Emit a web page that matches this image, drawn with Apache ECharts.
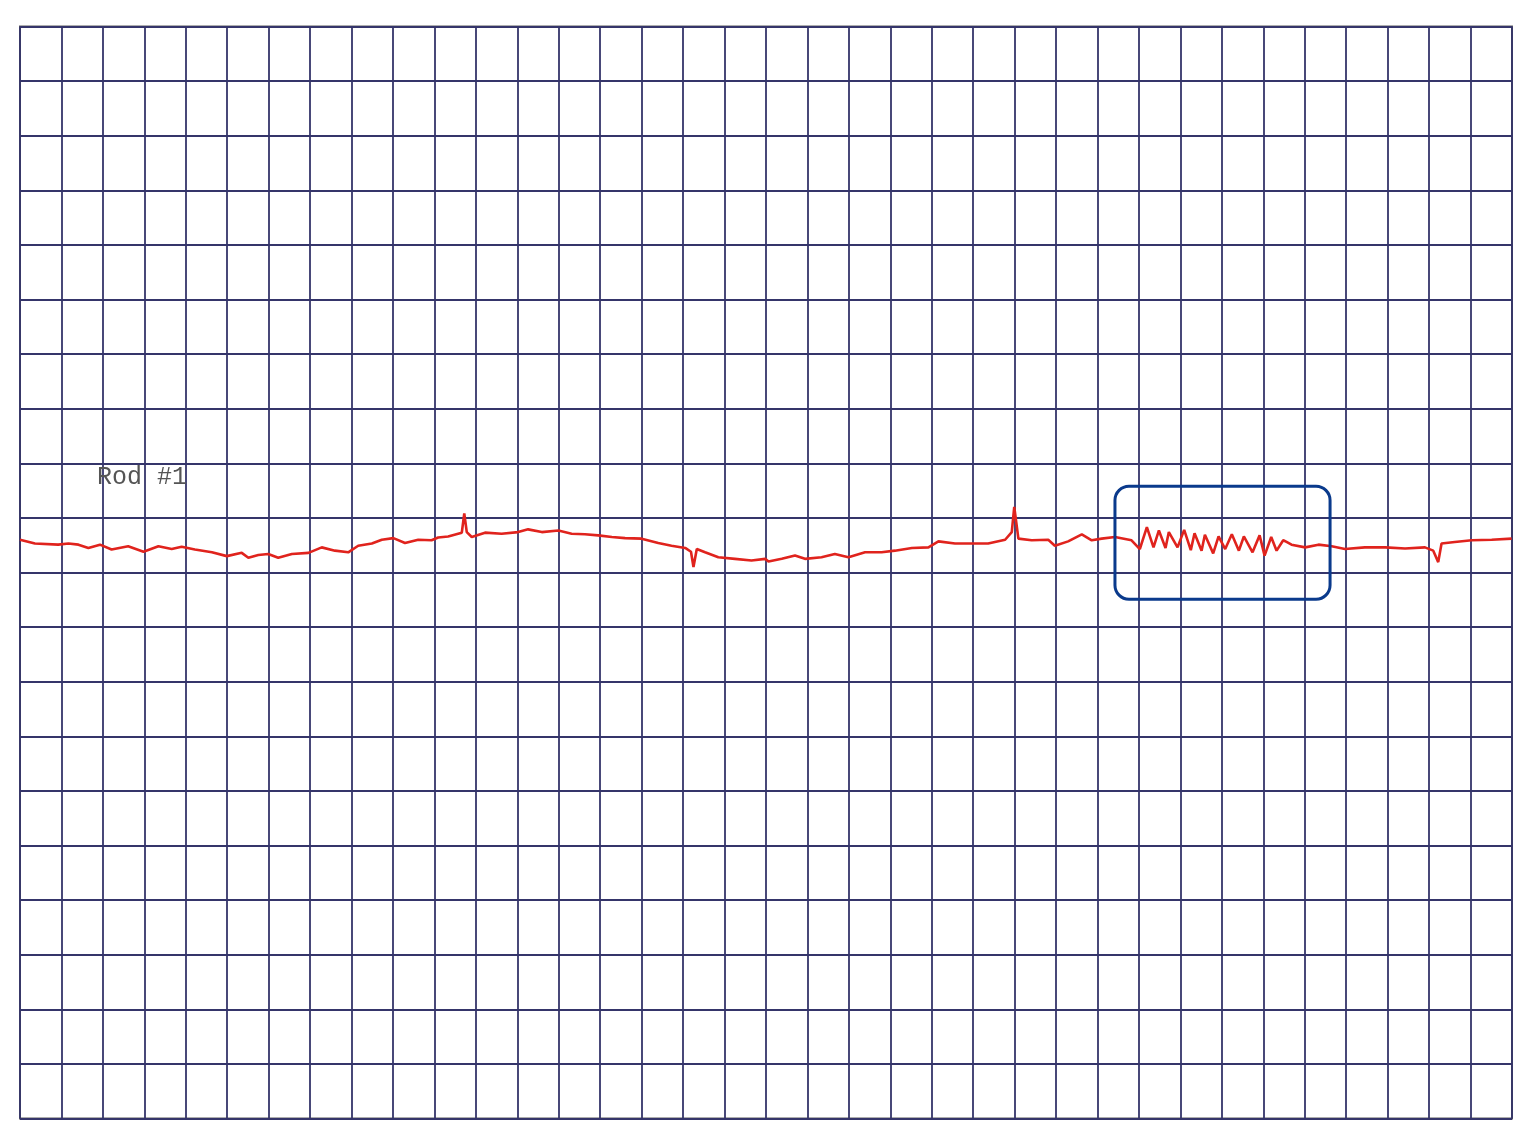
<!DOCTYPE html>
<html>
<head>
<meta charset="utf-8">
<script src="https://cdn.jsdelivr.net/npm/echarts/dist/echarts.min.js"></script>
<style>
  html, body { margin: 0; padding: 0; background: #fff; }
  #chart { width: 1536px; height: 1140px; }
</style>
</head>
<body>
<div id="chart"></div>
<script>
// trace position along the strip (grid cells) and level (grid cells)
var traceX = [
	0, 0.36, 0.92, 1.17, 1.41, 1.65, 1.93, 2.21, 2.61, 2.98, 3.34, 3.66, 3.90, 4.22, 4.63, 4.99,
	5.35, 5.51, 5.75, 5.99, 6.23, 6.56, 6.96, 7.28, 7.60, 7.92, 8.16, 8.49, 8.73, 9.01, 9.29, 9.61,
	9.93, 10.09, 10.33, 10.66, 10.72, 10.78, 10.90, 11.22, 11.62, 12.02, 12.26, 12.59, 12.99, 13.31,
	13.63, 13.95, 14.28, 14.60, 15.00, 15.40, 15.72, 16.05, 16.19, 16.25, 16.33, 16.53, 16.85, 17.25,
	17.65, 17.98, 18.06, 18.38, 18.70, 18.94, 19.34, 19.66, 19.99, 20.39, 20.79, 21.11, 21.52, 21.92,
	22.16, 22.56, 22.96, 23.36, 23.77, 23.93, 23.99, 24.09, 24.41, 24.81, 24.97, 25.29, 25.62, 25.86,
	26.10, 26.42, 26.82, 27.02, 27.19, 27.35, 27.48, 27.64, 27.72, 27.93, 28.09, 28.25, 28.34, 28.51,
	28.59, 28.79, 28.92, 29.08, 29.24, 29.41, 29.53, 29.74, 29.91, 30.03, 30.19, 30.32, 30.48, 30.56,
	30.68, 31.01, 31.33, 31.65, 31.97, 32.45, 32.94, 33.42, 33.90, 34.10, 34.22, 34.30, 34.62, 35.03,
	35.51, 35.99
];
var traceY = [
	10.60, 10.53, 10.51, 10.53, 10.51, 10.45, 10.51, 10.42, 10.48, 10.38, 10.48, 10.43, 10.47, 10.42, 10.37, 10.30,
	10.36, 10.27, 10.32, 10.34, 10.27, 10.34, 10.36, 10.46, 10.40, 10.37, 10.49, 10.53, 10.60, 10.63, 10.54, 10.60,
	10.59, 10.64, 10.66, 10.73, 11.08, 10.74, 10.65, 10.73, 10.71, 10.74, 10.79, 10.74, 10.77, 10.71,
	10.70, 10.68, 10.65, 10.63, 10.62, 10.54, 10.49, 10.45, 10.38, 10.10, 10.43, 10.37, 10.28, 10.25,
	10.22, 10.25, 10.20, 10.25, 10.31, 10.25, 10.28, 10.34, 10.28, 10.37, 10.37, 10.40, 10.45, 10.46,
	10.57, 10.53, 10.53, 10.53, 10.60, 10.74, 11.20, 10.62, 10.59, 10.60, 10.49, 10.57, 10.70, 10.59,
	10.62, 10.65, 10.59, 10.43, 10.83, 10.46, 10.77, 10.45, 10.74, 10.46, 10.78, 10.41, 10.72, 10.40,
	10.69, 10.35, 10.66, 10.43, 10.70, 10.40, 10.66, 10.37, 10.68, 10.31, 10.65, 10.40, 10.59, 10.56,
	10.51, 10.46, 10.51, 10.48, 10.43, 10.46, 10.46, 10.44, 10.46, 10.40, 10.19, 10.53, 10.56, 10.59,
	10.60, 10.62
];
var traceLabel = 'Rod #1';
var labelAt = [1.86, 11.74];
// highlighted span: [x0, yLow, x1, yHigh]
var highlightBox = [26.42, 9.51, 31.61, 11.58];

var xMax = 36;
var yMax = 20;

var myChart = echarts.init(document.getElementById('chart'));

var points = traceX.map(function(x, i) {
	return [x, traceY[i]];
});

var gridColor = '#35356a';

var option = {
	animation: false,
	backgroundColor: '#fff',
	grid: {
		left: 20,
		top: 26.5,
		width: 1492,
		height: 1092,
		show: true,
		borderColor: '#5e5e5e',
		borderWidth: 2
	},
	xAxis: {
		type: 'value',
		min: 0,
		max: xMax,
		interval: 1,
		axisLine: { show: false },
		axisTick: { show: false },
		axisLabel: { show: false },
		splitLine: { show: true, lineStyle: { color: gridColor, width: 1.8 } }
	},
	yAxis: {
		type: 'value',
		min: 0,
		max: yMax,
		interval: 1,
		axisLine: { show: false },
		axisTick: { show: false },
		axisLabel: { show: false },
		splitLine: { show: true, lineStyle: { color: gridColor, width: 1.8 } }
	},
	series: [{
		type: 'line',
		data: points,
		symbol: 'none',
		smooth: false,
		lineStyle: { color: '#e0231d', width: 2.6 },
		z: 5
	}]
};
myChart.setOption(option);

// annotation box and trace label, placed through the axes
var p0 = myChart.convertToPixel({ gridIndex: 0 }, [highlightBox[0], highlightBox[3]]);
var p1 = myChart.convertToPixel({ gridIndex: 0 }, [highlightBox[2], highlightBox[1]]);
var pl = myChart.convertToPixel({ gridIndex: 0 }, labelAt);

myChart.setOption({
	graphic: [{
		type: 'rect',
		shape: { x: p0[0], y: p0[1], width: p1[0] - p0[0], height: p1[1] - p0[1], r: 14 },
		style: { fill: 'none', stroke: '#0a3a8c', lineWidth: 3 },
		z: 10
	}, {
		type: 'text',
		x: pl[0],
		y: pl[1],
		style: {
			text: traceLabel,
			fill: '#555',
			font: '25px "Liberation Mono", monospace',
			verticalAlign: 'middle'
		},
		z: 10
	}]
});
</script>
</body>
</html>
